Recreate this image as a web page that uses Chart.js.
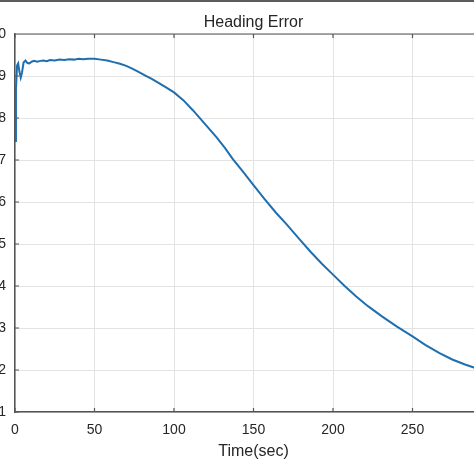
<!DOCTYPE html>
<html lang="en">
<head>
    <meta charset="UTF-8">
    <title>Heading Error</title>
    <script src="https://cdn.jsdelivr.net/npm/chart.js"></script>
    <style>
        html, body { margin: 0; padding: 0; background: #fff; }
        #frame { position: relative; width: 474px; height: 474px; overflow: hidden; }
        #wrap { position: absolute; left: -30px; top: 0; width: 536px; height: 474px; }
        #topbar { position: absolute; left: 0; top: 0; width: 474px; height: 2px; background: #5c5c5c; }
    </style>
</head>
<body>
    <div id="frame">
        <div id="wrap"><canvas id="chart"></canvas></div>
        <div id="topbar"></div>
    </div>

    <script>
        // values
        const timeSec = [0, 0.6, 1.3, 2.0, 2.8, 3.6, 4.4, 5.4, 6.6, 7.8, 9, 10.5, 12, 14, 16, 18, 20, 22, 25, 28,
            31, 34, 37, 40, 43, 46, 50, 54, 58, 62, 66, 70, 74, 78, 82, 86, 90, 95, 100, 106,
            112, 119, 126.8, 132, 137, 143, 150, 157, 164, 171, 179, 186, 193, 200, 207, 214.6, 222, 231, 240, 250,
            258, 267, 275, 283, 290, 296];
        const headingErr = [7.45, 8.68, 9.25, 9.30, 9.10, 8.96, 9.08, 9.32, 9.37, 9.31, 9.30, 9.34, 9.36, 9.34, 9.36, 9.37, 9.35, 9.38, 9.37, 9.39,
            9.38, 9.40, 9.39, 9.41, 9.40, 9.41, 9.41, 9.39, 9.37, 9.33, 9.29, 9.24, 9.17, 9.09, 9.01, 8.93, 8.84, 8.73, 8.61, 8.42,
            8.18, 7.88, 7.54, 7.29, 7.02, 6.74, 6.40, 6.07, 5.75, 5.46, 5.11, 4.81, 4.53, 4.27, 4.01, 3.75, 3.52, 3.27, 3.04, 2.80,
            2.60, 2.40, 2.25, 2.13, 2.04, 1.98];
        const xTicks = [0, 50, 100, 150, 200, 250, 300];
        const yTicks = [1, 2, 3, 4, 5, 6, 7, 8, 9, 10];

        const axisColor = '#555555';
        const gridColor = '#e3e3e3';
        const textColor = '#262626';
        const font = '"Liberation Sans", Arial, sans-serif';

        // MATLAB-style box top line and inward tick marks
        const boxTicks = {
            id: 'boxTicks',
            afterDraw(chart) {
                const { ctx, chartArea: a, scales } = chart;
                ctx.save();
                ctx.strokeStyle = axisColor;
                ctx.lineWidth = 1.2;
                ctx.beginPath();
                ctx.moveTo(a.left, a.top);
                ctx.lineTo(a.right, a.top);
                xTicks.forEach(v => {
                    const px = scales.x.getPixelForValue(v);
                    ctx.moveTo(px, a.bottom); ctx.lineTo(px, a.bottom - 4);
                    ctx.moveTo(px, a.top); ctx.lineTo(px, a.top + 4);
                });
                yTicks.forEach(v => {
                    const py = scales.y.getPixelForValue(v);
                    ctx.moveTo(a.left, py); ctx.lineTo(a.left + 4, py);
                });
                ctx.stroke();
                ctx.restore();
            }
        };

        new Chart(document.getElementById('chart'), {
            type: 'line',
            data: {
                datasets: [{
                    data: timeSec.map((t, i) => ({ x: t, y: headingErr[i] })),
                    borderColor: '#1f6fb0',
                    borderWidth: 2,
                    pointRadius: 0,
                    tension: 0,
                    fill: false
                }]
            },
            options: {
                responsive: true,
                maintainAspectRatio: false,
                animation: false,
                layout: { padding: { left: 0, right: 14, top: 0, bottom: 0 } },
                plugins: {
                    legend: { display: false },
                    tooltip: { enabled: false },
                    title: { display: false }
                },
                scales: {
                    x: {
                        type: 'linear',
                        min: 0,
                        max: 300,
                        afterBuildTicks: s => { s.ticks = xTicks.map(v => ({ value: v })); },
                        afterFit: s => { s.height = 62; s.paddingLeft = 0; s.paddingRight = 0; },
                        ticks: { color: textColor, font: { family: font, size: 14 }, padding: 10, maxRotation: 0 },
                        grid: { color: gridColor, drawTicks: false },
                        border: { color: axisColor, width: 1.5 },
                        title: {
                            display: true,
                            text: 'Time(sec)',
                            color: textColor,
                            font: { family: font, size: 16 },
                            padding: { top: 0, bottom: 13 }
                        }
                    },
                    // top axis only carries the plot title, centred over the axes
                    x2: {
                        type: 'linear',
                        position: 'top',
                        min: 0,
                        max: 300,
                        afterFit: s => { s.height = 34; s.paddingLeft = 0; s.paddingRight = 0; },
                        ticks: { display: false },
                        grid: { display: false, drawTicks: false },
                        border: { display: false },
                        title: {
                            display: true,
                            text: 'Heading Error',
                            color: textColor,
                            font: { family: font, size: 16 },
                            padding: { top: 13, bottom: 0 }
                        }
                    },
                    y: {
                        min: 1,
                        max: 10,
                        afterBuildTicks: s => { s.ticks = yTicks.map(v => ({ value: v })); },
                        afterFit: s => { s.width = 45; },
                        ticks: { color: textColor, font: { family: font, size: 14 }, padding: 9 },
                        grid: { color: gridColor, drawTicks: false },
                        border: { color: axisColor, width: 1.5 }
                    }
                }
            },
            plugins: [boxTicks]
        });
    </script>
</body>
</html>
